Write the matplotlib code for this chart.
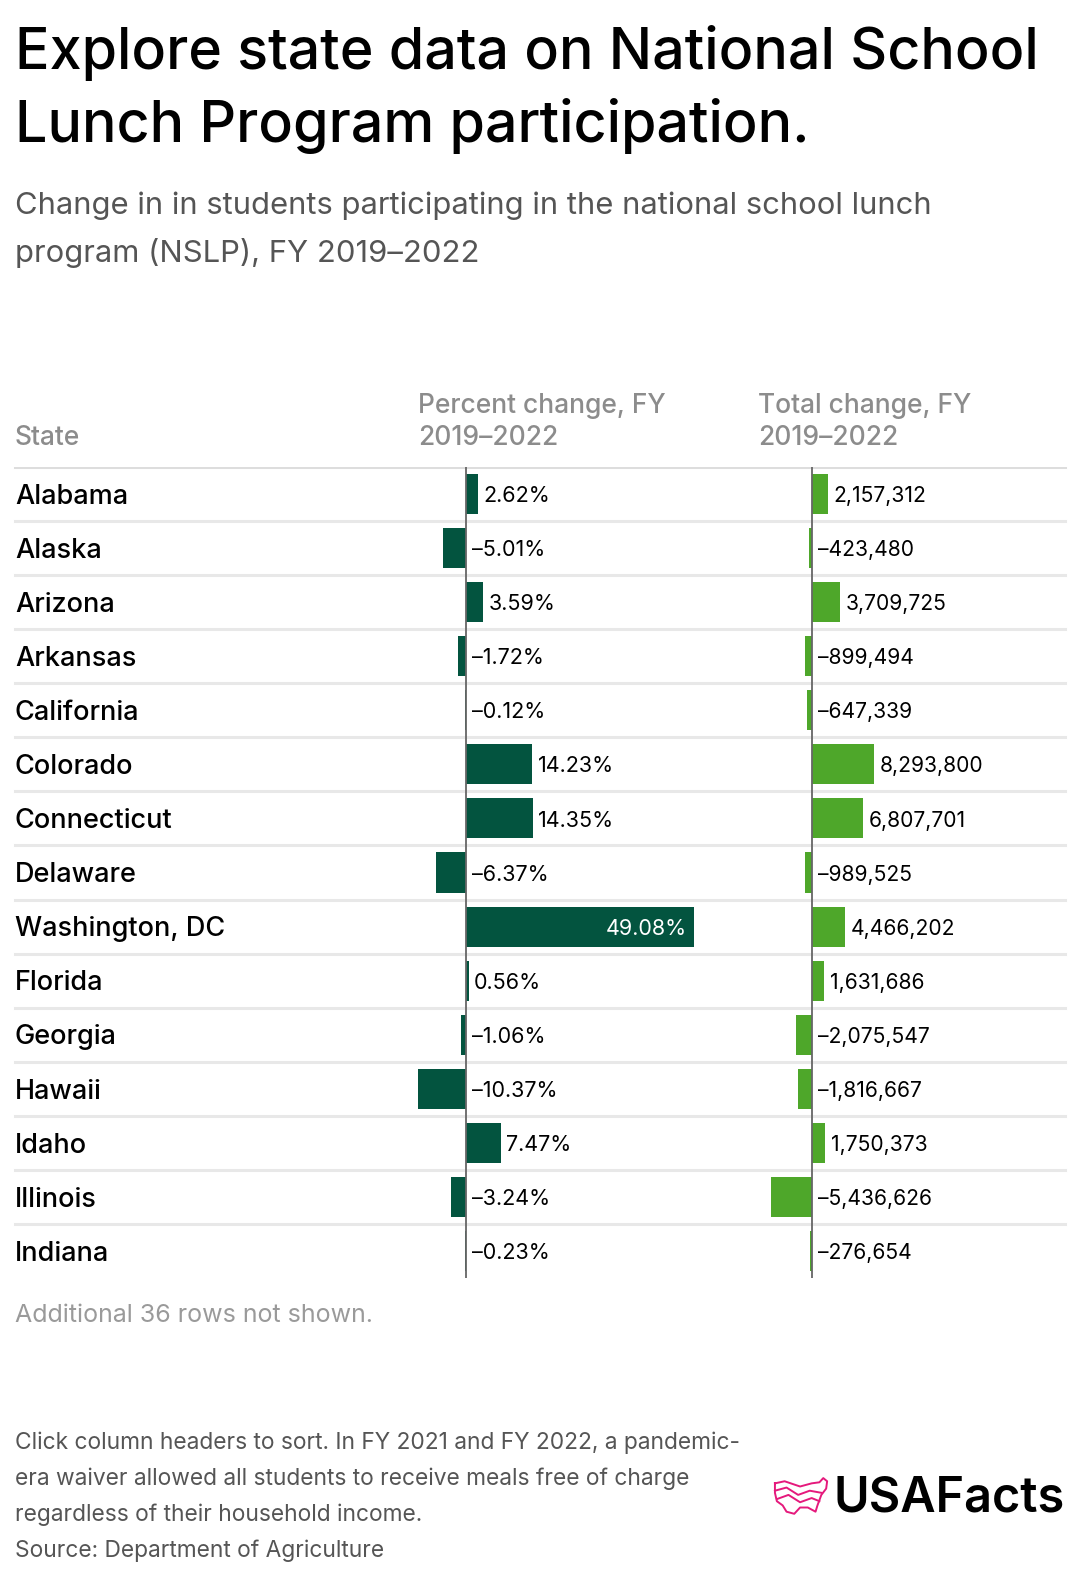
import numpy as np
import matplotlib.pyplot as plt

plt.rcParams['font.family'] = ['Inter', 'DejaVu Sans']

# Data
states = ["Alabama", "Alaska", "Arizona", "Arkansas", "California", "Colorado",
          "Connecticut", "Delaware", "Washington, DC", "Florida", "Georgia",
          "Hawaii", "Idaho", "Illinois", "Indiana"]
pct_change = [2.62, -5.01, 3.59, -1.72, -0.12, 14.23, 14.35, -6.37, 49.08,
              0.56, -1.06, -10.37, 7.47, -3.24, -0.23]
total_change = [2157312, -423480, 3709725, -899494, -647339, 8293800, 6807701,
                -989525, 4466202, 1631686, -2075547, -1816667, 1750373,
                -5436626, -276654]

DARK = "#03543F"
LIGHT = "#4EA72A"
PINK = "#E5197C"

W, H = 1080, 1582
fig = plt.figure(figsize=(W / 100, H / 100), dpi=100)


def fx(x):
    return x / W


def fy(y):
    return 1 - y / H


# Title / subtitle
fig.text(fx(15), fy(53), "Explore state data on National School", fontsize=41.3,
         fontweight="medium", va="center", color="black")
fig.text(fx(15), fy(126), "Lunch Program participation.", fontsize=41.3,
         fontweight="medium", va="center", color="black")
fig.text(fx(15), fy(206), "Change in in students participating in the national school lunch",
         fontsize=22.3, va="center", color="#555555")
fig.text(fx(15), fy(253), "program (NSLP), FY 2019\u20132022",
         fontsize=22.3, va="center", color="#555555")

# Column headers
hdr = dict(fontsize=19, va="center", color="#8c8c8c", fontweight="medium")
fig.text(fx(15), fy(438), "State", **hdr)
fig.text(fx(418), fy(406), "Percent change, FY", **hdr)
fig.text(fx(418), fy(438), "2019\u20132022", **hdr)
fig.text(fx(758), fy(406), "Total change, FY", **hdr)
fig.text(fx(758), fy(438), "2019\u20132022", **hdr)

top, bottom = 467, 1278
n = len(states)
rows = np.arange(n)
ax_b = fy(bottom)
ax_h = (bottom - top) / H

# table axes (names + separators)
tab = fig.add_axes([0, ax_b, 1, ax_h])
tab.set_xlim(0, W)
tab.set_ylim(n - 0.5, -0.5)
tab.axis("off")
for i in range(n):
    tab.annotate(states[i], (15, i), xytext=(0, -2), textcoords="offset points",
                 fontsize=19.5, fontweight="medium", va="center", ha="left", color="black")
    if i < n - 1:
        tab.plot([15, 1065], [i + 0.5, i + 0.5], color="#e8e8e8", lw=2.2, zorder=0)
tab.plot([15, 1065], [-0.5, -0.5], color="#dddddd", lw=2.2, zorder=0)

# percent axes
p_left, p_right, p_zero, p_scale = 400, 760, 466, 4.645
ax1 = fig.add_axes([fx(p_left), ax_b, (p_right - p_left) / W, ax_h])
ax1.set_xlim(-(p_zero - p_left) / p_scale, (p_right - p_zero) / p_scale)
ax1.set_ylim(n - 0.5, -0.5)
ax1.axis("off")
ax1.barh(rows, pct_change, height=0.74, color=DARK, zorder=2)
ax1.axvline(0, color="#666666", lw=1.3, zorder=3)
for i, v in enumerate(pct_change):
    label = f"{v:.2f}%".replace("-", "\u2013")
    if v > 40:
        ax1.annotate(label, (v, i), xytext=(-5, -1.5), textcoords="offset points",
                     ha="right", va="center", fontsize=15.5, color="white")
    else:
        ax1.annotate(label, (max(v, 0), i), xytext=(4, -1.5), textcoords="offset points",
                     ha="left", va="center", fontsize=15.5, color="black")

# total axes
t_left, t_right, t_zero, t_scale = 740, 1065, 812, 7.47e-6
ax2 = fig.add_axes([fx(t_left), ax_b, (t_right - t_left) / W, ax_h])
ax2.set_xlim(-(t_zero - t_left) / t_scale, (t_right - t_zero) / t_scale)
ax2.set_ylim(n - 0.5, -0.5)
ax2.axis("off")
ax2.barh(rows, total_change, height=0.74, color=LIGHT, zorder=2)
ax2.axvline(0, color="#666666", lw=1.3, zorder=3)
for i, v in enumerate(total_change):
    label = f"{v:,}".replace("-", "\u2013")
    ax2.annotate(label, (max(v, 0), i), xytext=(4, -1.5), textcoords="offset points",
                 ha="left", va="center", fontsize=15.2, color="black")

fig.text(fx(15), fy(1315), "Additional 36 rows not shown.", fontsize=18,
         va="center", color="#9a9a9a")

# footer
foot = ["Click column headers to sort. In FY 2021 and FY 2022, a pandemic-",
        "era waiver allowed all students to receive meals free of charge",
        "regardless of their household income.",
        "Source: Department of Agriculture"]
for y, line in zip([1443, 1479, 1515, 1551], foot):
    fig.text(fx(15), fy(y), line, fontsize=16.4, va="center", color="#555555")

# logo
fig.text(fx(1065), fy(1498), "USAFacts", fontsize=35, fontweight="semibold",
         ha="right", va="center", color="black")
lg = fig.add_axes([fx(773), fy(1518), 58 / W, 42 / H])
lg.set_xlim(0, 60)
lg.set_ylim(0, 40)
lg.axis("off")
outline_x = [2, 12, 28, 40, 48, 52, 56, 55, 50, 46, 44, 36, 28, 22, 14, 10, 4, 2, 2]
outline_y = [33, 35, 30, 33, 34, 38, 35, 28, 22, 12, 6, 10, 10, 4, 6, 12, 16, 24, 33]
lg.plot(outline_x, outline_y, color=PINK, lw=1.4)
lg.plot([2, 14, 26, 38, 50], [26, 29, 22, 26, 24], color=PINK, lw=1.4)
lg.plot([4, 16, 28, 40, 48], [18, 22, 15, 19, 16], color=PINK, lw=1.4)

fig.savefig("out.png", dpi=100, facecolor="white")
